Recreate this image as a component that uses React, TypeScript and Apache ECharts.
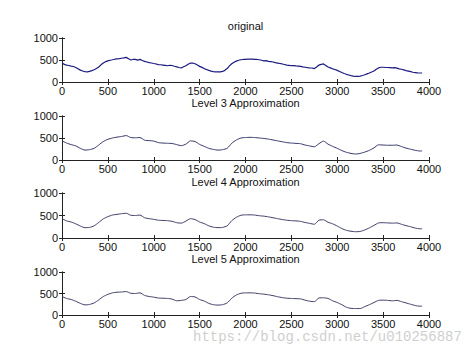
import React, { useEffect, useRef } from "react";
import * as echarts from "echarts";

const xTicks = [0, 500, 1000, 1500, 2000, 2500, 3000, 3500, 4000];
const yTicks = [0, 500, 1000];
const titles = ["original", "Level 3 Approximation", "Level 4 Approximation", "Level 5 Approximation"];

const xs25 = [0,25,50,75,100,125,150,175,200,225,250,275,300,325,350,375,400,425,450,475,500,525,550,575,600,625,650,675,700,725,750,775,800,825,850,875,900,925,950,975,1000,1025,1050,1075,1100,1125,1150,1175,1200,1225,1250,1275,1300,1325,1350,1375,1400,1425,1450,1475,1500,1525,1550,1575,1600,1625,1650,1675,1700,1725,1750,1775,1800,1825,1850,1875,1900,1925,1950,1975,2000,2025,2050,2075,2100,2125,2150,2175,2200,2225,2250,2275,2300,2325,2350,2375,2400,2425,2450,2475,2500,2525,2550,2575,2600,2625,2650,2675,2700,2725,2750,2775,2800,2825,2850,2875,2900,2925,2950,2975,3000,3025,3050,3075,3100,3125,3150,3175,3200,3225,3250,3275,3300,3325,3350,3375,3400,3425,3450,3475,3500,3525,3550,3575,3600,3625,3650,3675,3700,3725,3750,3775,3800,3825,3850,3875,3900,3925];
const original = [440,400,385,375,360,352,330,300,270,250,235,232,240,258,280,308,340,390,430,462,480,495,505,518,525,530,540,548,560,530,500,512,515,498,515,490,470,455,440,432,420,410,395,392,385,378,370,380,375,358,345,330,320,345,370,405,430,432,415,385,355,332,305,285,265,248,235,228,230,232,240,265,305,365,415,450,475,495,505,512,515,518,520,518,515,512,505,495,480,485,470,465,455,440,430,420,410,398,385,378,370,372,365,362,355,342,335,325,320,318,305,340,385,400,410,375,340,322,300,285,265,240,215,192,175,160,145,135,130,128,135,148,165,185,205,228,250,290,320,335,335,330,330,325,320,325,315,300,290,275,260,248,235,222,215,208,205,205];

const xs50 = [0,50,100,150,200,250,300,350,400,450,500,550,600,650,700,750,800,850,900,950,1000,1050,1100,1150,1200,1250,1300,1350,1400,1450,1500,1550,1600,1650,1700,1750,1800,1850,1900,1950,2000,2050,2100,2150,2200,2250,2300,2350,2400,2450,2500,2550,2600,2650,2700,2750,2800,2850,2900,2950,3000,3050,3100,3150,3200,3250,3300,3350,3400,3450,3500,3550,3600,3650,3700,3750,3800,3850,3900,3925];
const level3 = [435,385,350,320,265,225,235,265,340,420,470,500,520,535,555,510,505,510,450,440,430,395,385,380,375,350,325,360,435,420,355,310,265,240,225,235,265,380,455,500,510,515,510,500,490,475,455,435,415,395,385,378,370,340,320,300,370,430,360,310,265,215,175,150,135,150,180,220,275,345,340,335,335,340,305,270,245,220,205,205];
const level4 = [430,380,355,315,265,230,235,270,345,425,475,510,525,540,550,505,500,510,450,430,415,395,390,385,370,340,330,375,430,410,355,320,270,240,230,235,270,385,460,505,515,515,510,495,485,470,450,430,410,395,385,380,370,345,325,305,395,405,350,315,265,210,170,150,140,145,180,225,280,335,340,335,330,335,305,275,250,220,205,205];
const level5 = [430,385,360,320,270,235,245,280,350,430,480,515,530,535,545,505,500,515,455,430,415,395,390,385,370,330,340,360,430,420,360,325,270,240,230,240,280,390,465,505,515,515,510,495,485,470,450,425,405,390,385,380,375,345,320,310,395,400,385,330,290,240,180,155,150,150,195,240,290,340,345,340,330,340,310,280,250,220,205,205];

const grids = [
  { top: 38, height: 44 },
  { top: 116, height: 44 },
  { top: 193, height: 45 },
  { top: 272, height: 43 },
];
const titleTops = [20, 97, 176, 253];

const FONT = "Liberation Sans";

export default function App() {
  const ref = useRef<HTMLDivElement>(null);
  useEffect(() => {
    if (!ref.current) return;
    const chart = echarts.init(ref.current, null, { renderer: "svg" });
    const seriesData = [
      xs25.map((x, i) => [x, original[i]]),
      xs50.map((x, i) => [x, level3[i]]),
      xs50.map((x, i) => [x, level4[i]]),
      xs50.map((x, i) => [x, level5[i]]),
    ];
    const colors = ["#1a1a80", "#34346a", "#3c3c66", "#3c3c66"];
    const axisLine = { show: true, lineStyle: { color: "#222", width: 1 } };
    const axisTick = { show: true, inside: true, length: 3, lineStyle: { color: "#222" } };
    const xAxis: any[] = [];
    const yAxis: any[] = [];
    grids.forEach((_, i) => {
      xAxis.push({
        type: "value", gridIndex: i, min: 0, max: 4000, interval: 500, position: "bottom",
        axisLine, axisTick, splitLine: { show: false },
        axisLabel: { show: true, fontSize: 11, fontFamily: FONT, color: "#111", margin: 3,
          formatter: (v: number) => (xTicks.includes(v) ? String(v) : "") },
      });
      xAxis.push({
        type: "value", gridIndex: i, min: 0, max: 4000, interval: 500, position: "top",
        axisLine, axisTick, splitLine: { show: false }, axisLabel: { show: false },
      });
      yAxis.push({
        type: "value", gridIndex: i, min: 0, max: 1000, interval: 500, position: "left",
        axisLine, axisTick, splitLine: { show: false },
        axisLabel: { show: true, fontSize: 11, fontFamily: FONT, color: "#111", margin: 4,
          formatter: (v: number) => (yTicks.includes(v) ? String(v) : "") },
      });
      yAxis.push({
        type: "value", gridIndex: i, min: 0, max: 1000, interval: 500, position: "right",
        axisLine, axisTick, splitLine: { show: false }, axisLabel: { show: false },
      });
    });
    chart.setOption({
      animation: false,
      backgroundColor: "#ffffff",
      title: titles.map((t, i) => ({
        text: t, left: 245.5, top: titleTops[i], textAlign: "center", padding: 0,
        textStyle: { fontSize: 11, fontWeight: "normal", fontFamily: FONT, color: "#111" },
      })),
      grid: grids.map((g) => ({ left: 62, right: 45, top: g.top, height: g.height, containLabel: false })),
      xAxis,
      yAxis,
      series: seriesData.map((d, i) => ({
        type: "line", xAxisIndex: i * 2, yAxisIndex: i * 2, data: d, showSymbol: false,
        smooth: i === 0 ? false : 0.2,
        lineStyle: { color: colors[i], width: i === 0 ? 1.2 : 1 },
      })),
      graphic: [
        {
          type: "text", left: 193, top: 330,
          style: { text: "https://blog.csdn.net/u010256887", fontFamily: "Liberation Mono", fontSize: 14, fill: "#cfcfcf" },
        },
      ],
    });
    return () => chart.dispose();
  }, []);
  return <div ref={ref} style={{ position: "fixed", left: 0, top: 0, width: 474, height: 355 }} />;
}
